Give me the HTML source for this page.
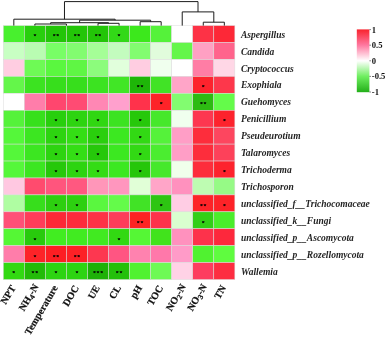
<!DOCTYPE html>
<html><head><meta charset="utf-8"><title>Heatmap</title>
<style>html,body{margin:0;padding:0;background:#fff}svg{display:block}</style></head>
<body>
<svg width="390" height="337" viewBox="0 0 390 337">
<rect width="390" height="337" fill="#fff"/>
<g stroke="#dcdcdc" stroke-width="0.5">
<rect x="3.30" y="25.60" width="21.05" height="16.93" fill="rgb(72,240,46)"/>
<rect x="24.35" y="25.60" width="21.05" height="16.93" fill="rgb(40,207,13)"/>
<rect x="45.40" y="25.60" width="21.05" height="16.93" fill="rgb(35,197,8)"/>
<rect x="66.45" y="25.60" width="21.05" height="16.93" fill="rgb(35,197,8)"/>
<rect x="87.50" y="25.60" width="21.05" height="16.93" fill="rgb(35,197,8)"/>
<rect x="108.55" y="25.60" width="21.05" height="16.93" fill="rgb(50,217,23)"/>
<rect x="129.60" y="25.60" width="21.05" height="16.93" fill="rgb(60,232,28)"/>
<rect x="150.65" y="25.60" width="21.05" height="16.93" fill="rgb(85,242,58)"/>
<rect x="171.70" y="25.60" width="21.05" height="16.93" fill="rgb(255,255,255)"/>
<rect x="192.75" y="25.60" width="21.05" height="16.93" fill="rgb(253,50,70)"/>
<rect x="213.80" y="25.60" width="21.05" height="16.93" fill="rgb(253,40,55)"/>
<rect x="3.30" y="42.53" width="21.05" height="16.93" fill="rgb(200,255,195)"/>
<rect x="24.35" y="42.53" width="21.05" height="16.93" fill="rgb(185,252,178)"/>
<rect x="45.40" y="42.53" width="21.05" height="16.93" fill="rgb(120,254,102)"/>
<rect x="66.45" y="42.53" width="21.05" height="16.93" fill="rgb(130,252,112)"/>
<rect x="87.50" y="42.53" width="21.05" height="16.93" fill="rgb(165,254,151)"/>
<rect x="108.55" y="42.53" width="21.05" height="16.93" fill="rgb(195,252,190)"/>
<rect x="129.60" y="42.53" width="21.05" height="16.93" fill="rgb(130,252,112)"/>
<rect x="150.65" y="42.53" width="21.05" height="16.93" fill="rgb(225,252,220)"/>
<rect x="171.70" y="42.53" width="21.05" height="16.93" fill="rgb(100,246,74)"/>
<rect x="192.75" y="42.53" width="21.05" height="16.93" fill="rgb(255,160,195)"/>
<rect x="213.80" y="42.53" width="21.05" height="16.93" fill="rgb(255,100,140)"/>
<rect x="3.30" y="59.46" width="21.05" height="16.93" fill="rgb(255,205,225)"/>
<rect x="24.35" y="59.46" width="21.05" height="16.93" fill="rgb(110,250,85)"/>
<rect x="45.40" y="59.46" width="21.05" height="16.93" fill="rgb(90,247,63)"/>
<rect x="66.45" y="59.46" width="21.05" height="16.93" fill="rgb(95,246,68)"/>
<rect x="87.50" y="59.46" width="21.05" height="16.93" fill="rgb(140,252,124)"/>
<rect x="108.55" y="59.46" width="21.05" height="16.93" fill="rgb(225,255,220)"/>
<rect x="129.60" y="59.46" width="21.05" height="16.93" fill="rgb(255,205,225)"/>
<rect x="150.65" y="59.46" width="21.05" height="16.93" fill="rgb(240,255,238)"/>
<rect x="171.70" y="59.46" width="21.05" height="16.93" fill="rgb(255,255,255)"/>
<rect x="192.75" y="59.46" width="21.05" height="16.93" fill="rgb(255,125,165)"/>
<rect x="213.80" y="59.46" width="21.05" height="16.93" fill="rgb(255,215,230)"/>
<rect x="3.30" y="76.39" width="21.05" height="16.93" fill="rgb(100,246,74)"/>
<rect x="24.35" y="76.39" width="21.05" height="16.93" fill="rgb(60,227,33)"/>
<rect x="45.40" y="76.39" width="21.05" height="16.93" fill="rgb(55,222,28)"/>
<rect x="66.45" y="76.39" width="21.05" height="16.93" fill="rgb(55,222,28)"/>
<rect x="87.50" y="76.39" width="21.05" height="16.93" fill="rgb(60,227,33)"/>
<rect x="108.55" y="76.39" width="21.05" height="16.93" fill="rgb(65,230,38)"/>
<rect x="129.60" y="76.39" width="21.05" height="16.93" fill="rgb(30,182,8)"/>
<rect x="150.65" y="76.39" width="21.05" height="16.93" fill="rgb(65,227,38)"/>
<rect x="171.70" y="76.39" width="21.05" height="16.93" fill="rgb(255,165,200)"/>
<rect x="192.75" y="76.39" width="21.05" height="16.93" fill="rgb(253,35,45)"/>
<rect x="213.80" y="76.39" width="21.05" height="16.93" fill="rgb(253,55,75)"/>
<rect x="3.30" y="93.32" width="21.05" height="16.93" fill="rgb(255,255,255)"/>
<rect x="24.35" y="93.32" width="21.05" height="16.93" fill="rgb(255,125,170)"/>
<rect x="45.40" y="93.32" width="21.05" height="16.93" fill="rgb(255,70,110)"/>
<rect x="66.45" y="93.32" width="21.05" height="16.93" fill="rgb(255,75,115)"/>
<rect x="87.50" y="93.32" width="21.05" height="16.93" fill="rgb(255,135,180)"/>
<rect x="108.55" y="93.32" width="21.05" height="16.93" fill="rgb(255,160,205)"/>
<rect x="129.60" y="93.32" width="21.05" height="16.93" fill="rgb(255,50,75)"/>
<rect x="150.65" y="93.32" width="21.05" height="16.93" fill="rgb(253,35,40)"/>
<rect x="171.70" y="93.32" width="21.05" height="16.93" fill="rgb(130,252,112)"/>
<rect x="192.75" y="93.32" width="21.05" height="16.93" fill="rgb(45,187,18)"/>
<rect x="213.80" y="93.32" width="21.05" height="16.93" fill="rgb(100,251,74)"/>
<rect x="3.30" y="110.25" width="21.05" height="16.93" fill="rgb(85,242,58)"/>
<rect x="24.35" y="110.25" width="21.05" height="16.93" fill="rgb(55,224,28)"/>
<rect x="45.40" y="110.25" width="21.05" height="16.93" fill="rgb(40,207,13)"/>
<rect x="66.45" y="110.25" width="21.05" height="16.93" fill="rgb(45,212,16)"/>
<rect x="87.50" y="110.25" width="21.05" height="16.93" fill="rgb(48,215,18)"/>
<rect x="108.55" y="110.25" width="21.05" height="16.93" fill="rgb(60,227,33)"/>
<rect x="129.60" y="110.25" width="21.05" height="16.93" fill="rgb(38,200,10)"/>
<rect x="150.65" y="110.25" width="21.05" height="16.93" fill="rgb(70,232,43)"/>
<rect x="171.70" y="110.25" width="21.05" height="16.93" fill="rgb(240,255,238)"/>
<rect x="192.75" y="110.25" width="21.05" height="16.93" fill="rgb(253,55,80)"/>
<rect x="213.80" y="110.25" width="21.05" height="16.93" fill="rgb(253,35,45)"/>
<rect x="3.30" y="127.18" width="21.05" height="16.93" fill="rgb(85,247,58)"/>
<rect x="24.35" y="127.18" width="21.05" height="16.93" fill="rgb(60,230,33)"/>
<rect x="45.40" y="127.18" width="21.05" height="16.93" fill="rgb(45,212,16)"/>
<rect x="66.45" y="127.18" width="21.05" height="16.93" fill="rgb(52,222,21)"/>
<rect x="87.50" y="127.18" width="21.05" height="16.93" fill="rgb(42,207,13)"/>
<rect x="108.55" y="127.18" width="21.05" height="16.93" fill="rgb(60,232,33)"/>
<rect x="129.60" y="127.18" width="21.05" height="16.93" fill="rgb(50,217,20)"/>
<rect x="150.65" y="127.18" width="21.05" height="16.93" fill="rgb(85,242,58)"/>
<rect x="171.70" y="127.18" width="21.05" height="16.93" fill="rgb(255,158,198)"/>
<rect x="192.75" y="127.18" width="21.05" height="16.93" fill="rgb(253,45,60)"/>
<rect x="213.80" y="127.18" width="21.05" height="16.93" fill="rgb(253,70,95)"/>
<rect x="3.30" y="144.11" width="21.05" height="16.93" fill="rgb(85,247,58)"/>
<rect x="24.35" y="144.11" width="21.05" height="16.93" fill="rgb(60,230,33)"/>
<rect x="45.40" y="144.11" width="21.05" height="16.93" fill="rgb(45,212,16)"/>
<rect x="66.45" y="144.11" width="21.05" height="16.93" fill="rgb(52,222,21)"/>
<rect x="87.50" y="144.11" width="21.05" height="16.93" fill="rgb(38,200,10)"/>
<rect x="108.55" y="144.11" width="21.05" height="16.93" fill="rgb(60,232,33)"/>
<rect x="129.60" y="144.11" width="21.05" height="16.93" fill="rgb(50,217,20)"/>
<rect x="150.65" y="144.11" width="21.05" height="16.93" fill="rgb(75,237,48)"/>
<rect x="171.70" y="144.11" width="21.05" height="16.93" fill="rgb(255,158,198)"/>
<rect x="192.75" y="144.11" width="21.05" height="16.93" fill="rgb(253,45,60)"/>
<rect x="213.80" y="144.11" width="21.05" height="16.93" fill="rgb(253,65,90)"/>
<rect x="3.30" y="161.04" width="21.05" height="16.93" fill="rgb(85,247,58)"/>
<rect x="24.35" y="161.04" width="21.05" height="16.93" fill="rgb(60,230,33)"/>
<rect x="45.40" y="161.04" width="21.05" height="16.93" fill="rgb(38,200,10)"/>
<rect x="66.45" y="161.04" width="21.05" height="16.93" fill="rgb(45,212,16)"/>
<rect x="87.50" y="161.04" width="21.05" height="16.93" fill="rgb(52,220,21)"/>
<rect x="108.55" y="161.04" width="21.05" height="16.93" fill="rgb(60,232,33)"/>
<rect x="129.60" y="161.04" width="21.05" height="16.93" fill="rgb(38,198,10)"/>
<rect x="150.65" y="161.04" width="21.05" height="16.93" fill="rgb(70,232,43)"/>
<rect x="171.70" y="161.04" width="21.05" height="16.93" fill="rgb(240,255,235)"/>
<rect x="192.75" y="161.04" width="21.05" height="16.93" fill="rgb(253,45,60)"/>
<rect x="213.80" y="161.04" width="21.05" height="16.93" fill="rgb(253,35,45)"/>
<rect x="3.30" y="177.97" width="21.05" height="16.93" fill="rgb(255,200,225)"/>
<rect x="24.35" y="177.97" width="21.05" height="16.93" fill="rgb(255,75,110)"/>
<rect x="45.40" y="177.97" width="21.05" height="16.93" fill="rgb(255,85,125)"/>
<rect x="66.45" y="177.97" width="21.05" height="16.93" fill="rgb(255,88,128)"/>
<rect x="87.50" y="177.97" width="21.05" height="16.93" fill="rgb(255,150,185)"/>
<rect x="108.55" y="177.97" width="21.05" height="16.93" fill="rgb(255,150,190)"/>
<rect x="129.60" y="177.97" width="21.05" height="16.93" fill="rgb(225,255,215)"/>
<rect x="150.65" y="177.97" width="21.05" height="16.93" fill="rgb(255,165,200)"/>
<rect x="171.70" y="177.97" width="21.05" height="16.93" fill="rgb(255,145,190)"/>
<rect x="192.75" y="177.97" width="21.05" height="16.93" fill="rgb(190,252,178)"/>
<rect x="213.80" y="177.97" width="21.05" height="16.93" fill="rgb(150,250,134)"/>
<rect x="3.30" y="194.90" width="21.05" height="16.93" fill="rgb(175,253,162)"/>
<rect x="24.35" y="194.90" width="21.05" height="16.93" fill="rgb(55,222,28)"/>
<rect x="45.40" y="194.90" width="21.05" height="16.93" fill="rgb(45,207,16)"/>
<rect x="66.45" y="194.90" width="21.05" height="16.93" fill="rgb(45,208,16)"/>
<rect x="87.50" y="194.90" width="21.05" height="16.93" fill="rgb(90,247,63)"/>
<rect x="108.55" y="194.90" width="21.05" height="16.93" fill="rgb(100,251,74)"/>
<rect x="129.60" y="194.90" width="21.05" height="16.93" fill="rgb(65,227,38)"/>
<rect x="150.65" y="194.90" width="21.05" height="16.93" fill="rgb(45,197,18)"/>
<rect x="171.70" y="194.90" width="21.05" height="16.93" fill="rgb(255,205,228)"/>
<rect x="192.75" y="194.90" width="21.05" height="16.93" fill="rgb(253,35,40)"/>
<rect x="213.80" y="194.90" width="21.05" height="16.93" fill="rgb(253,35,40)"/>
<rect x="3.30" y="211.83" width="21.05" height="16.93" fill="rgb(255,80,120)"/>
<rect x="24.35" y="211.83" width="21.05" height="16.93" fill="rgb(255,60,90)"/>
<rect x="45.40" y="211.83" width="21.05" height="16.93" fill="rgb(253,40,55)"/>
<rect x="66.45" y="211.83" width="21.05" height="16.93" fill="rgb(253,43,60)"/>
<rect x="87.50" y="211.83" width="21.05" height="16.93" fill="rgb(253,50,70)"/>
<rect x="108.55" y="211.83" width="21.05" height="16.93" fill="rgb(253,60,90)"/>
<rect x="129.60" y="211.83" width="21.05" height="16.93" fill="rgb(253,35,35)"/>
<rect x="150.65" y="211.83" width="21.05" height="16.93" fill="rgb(253,50,75)"/>
<rect x="171.70" y="211.83" width="21.05" height="16.93" fill="rgb(217,255,207)"/>
<rect x="192.75" y="211.83" width="21.05" height="16.93" fill="rgb(50,207,23)"/>
<rect x="213.80" y="211.83" width="21.05" height="16.93" fill="rgb(75,237,43)"/>
<rect x="3.30" y="228.76" width="21.05" height="16.93" fill="rgb(85,247,53)"/>
<rect x="24.35" y="228.76" width="21.05" height="16.93" fill="rgb(40,202,13)"/>
<rect x="45.40" y="228.76" width="21.05" height="16.93" fill="rgb(65,237,33)"/>
<rect x="66.45" y="228.76" width="21.05" height="16.93" fill="rgb(65,235,33)"/>
<rect x="87.50" y="228.76" width="21.05" height="16.93" fill="rgb(65,234,33)"/>
<rect x="108.55" y="228.76" width="21.05" height="16.93" fill="rgb(50,217,18)"/>
<rect x="129.60" y="228.76" width="21.05" height="16.93" fill="rgb(85,247,53)"/>
<rect x="150.65" y="228.76" width="21.05" height="16.93" fill="rgb(65,227,28)"/>
<rect x="171.70" y="228.76" width="21.05" height="16.93" fill="rgb(255,145,190)"/>
<rect x="192.75" y="228.76" width="21.05" height="16.93" fill="rgb(253,50,75)"/>
<rect x="213.80" y="228.76" width="21.05" height="16.93" fill="rgb(253,40,60)"/>
<rect x="3.30" y="245.69" width="21.05" height="16.93" fill="rgb(255,125,170)"/>
<rect x="24.35" y="245.69" width="21.05" height="16.93" fill="rgb(253,35,40)"/>
<rect x="45.40" y="245.69" width="21.05" height="16.93" fill="rgb(253,30,35)"/>
<rect x="66.45" y="245.69" width="21.05" height="16.93" fill="rgb(253,33,38)"/>
<rect x="87.50" y="245.69" width="21.05" height="16.93" fill="rgb(253,55,80)"/>
<rect x="108.55" y="245.69" width="21.05" height="16.93" fill="rgb(255,85,130)"/>
<rect x="129.60" y="245.69" width="21.05" height="16.93" fill="rgb(255,130,175)"/>
<rect x="150.65" y="245.69" width="21.05" height="16.93" fill="rgb(255,120,170)"/>
<rect x="171.70" y="245.69" width="21.05" height="16.93" fill="rgb(255,155,200)"/>
<rect x="192.75" y="245.69" width="21.05" height="16.93" fill="rgb(80,242,48)"/>
<rect x="213.80" y="245.69" width="21.05" height="16.93" fill="rgb(95,252,63)"/>
<rect x="3.30" y="262.62" width="21.05" height="16.93" fill="rgb(50,217,18)"/>
<rect x="24.35" y="262.62" width="21.05" height="16.93" fill="rgb(35,187,8)"/>
<rect x="45.40" y="262.62" width="21.05" height="16.93" fill="rgb(45,212,18)"/>
<rect x="66.45" y="262.62" width="21.05" height="16.93" fill="rgb(45,212,18)"/>
<rect x="87.50" y="262.62" width="21.05" height="16.93" fill="rgb(30,177,8)"/>
<rect x="108.55" y="262.62" width="21.05" height="16.93" fill="rgb(35,192,10)"/>
<rect x="129.60" y="262.62" width="21.05" height="16.93" fill="rgb(80,242,48)"/>
<rect x="150.65" y="262.62" width="21.05" height="16.93" fill="rgb(110,250,85)"/>
<rect x="171.70" y="262.62" width="21.05" height="16.93" fill="rgb(255,210,230)"/>
<rect x="192.75" y="262.62" width="21.05" height="16.93" fill="rgb(253,60,95)"/>
<rect x="213.80" y="262.62" width="21.05" height="16.93" fill="rgb(253,45,65)"/>
</g>
<g font-family="'Liberation Sans',sans-serif" font-size="6.2" font-weight="bold" text-anchor="middle" letter-spacing="1.2" fill="#000" stroke="#000" stroke-width="0.2">
<text x="35.48" y="38.46">*</text>
<text x="56.52" y="38.46">**</text>
<text x="77.57" y="38.46">**</text>
<text x="98.62" y="38.46">**</text>
<text x="119.67" y="38.46">*</text>
<text x="140.73" y="89.25">**</text>
<text x="203.88" y="89.25">*</text>
<text x="161.78" y="106.19">*</text>
<text x="203.88" y="106.19">**</text>
<text x="56.52" y="123.12">*</text>
<text x="77.57" y="123.12">*</text>
<text x="98.62" y="123.12">*</text>
<text x="140.73" y="123.12">*</text>
<text x="224.93" y="123.12">*</text>
<text x="56.52" y="140.05">*</text>
<text x="77.57" y="140.05">*</text>
<text x="98.62" y="140.05">*</text>
<text x="140.73" y="140.05">*</text>
<text x="56.52" y="156.97">*</text>
<text x="77.57" y="156.97">*</text>
<text x="98.62" y="156.97">*</text>
<text x="140.73" y="156.97">*</text>
<text x="56.52" y="173.91">*</text>
<text x="77.57" y="173.91">*</text>
<text x="98.62" y="173.91">*</text>
<text x="140.73" y="173.91">*</text>
<text x="224.93" y="173.91">*</text>
<text x="56.52" y="207.76">*</text>
<text x="77.57" y="207.76">*</text>
<text x="161.78" y="207.76">*</text>
<text x="203.88" y="207.76">**</text>
<text x="224.93" y="207.76">*</text>
<text x="140.73" y="224.69">**</text>
<text x="203.88" y="224.69">*</text>
<text x="35.48" y="241.62">*</text>
<text x="119.67" y="241.62">*</text>
<text x="35.48" y="258.56">*</text>
<text x="56.52" y="258.56">**</text>
<text x="77.57" y="258.56">**</text>
<text x="14.42" y="275.48">*</text>
<text x="35.48" y="275.48">**</text>
<text x="56.52" y="275.48">*</text>
<text x="77.57" y="275.48">*</text>
<text x="98.62" y="275.48">***</text>
<text x="119.67" y="275.48">**</text>
</g>
<path d="M34.88 25.6V24.0H66.45V25.6M98.03 25.6V23.3H119.08V25.6M50.66 24.0V22.7H108.55V23.3M140.13 25.6V21.7H161.18V25.6M79.61 22.7V20.2H150.65V21.7M13.82 25.6V19.2H115.13V20.2M203.28 25.6V22.2H224.33V25.6M182.23 25.6V11.9H213.80V22.2M64.48 19.2V1.6H198.01V11.9" fill="none" stroke="#1c1c1c" stroke-width="1"/>
<g font-family="'Liberation Serif',serif" font-size="9.5" font-weight="bold" font-style="italic" fill="#242424">
<text x="240.9" y="37.66">Aspergillus</text>
<text x="240.9" y="54.59">Candida</text>
<text x="240.9" y="71.53">Cryptococcus</text>
<text x="240.9" y="88.45">Exophiala</text>
<text x="240.9" y="105.38">Guehomyces</text>
<text x="240.9" y="122.31">Penicillium</text>
<text x="240.9" y="139.25">Pseudeurotium</text>
<text x="240.9" y="156.18">Talaromyces</text>
<text x="240.9" y="173.11">Trichoderma</text>
<text x="240.9" y="190.04">Trichosporon</text>
<text x="240.9" y="206.97">unclassified_f__Trichocomaceae</text>
<text x="240.9" y="223.90">unclassified_k__Fungi</text>
<text x="240.9" y="240.83">unclassified_p__Ascomycota</text>
<text x="240.9" y="257.75">unclassified_p__Rozellomycota</text>
<text x="240.9" y="274.69">Wallemia</text>
</g>
<g font-family="'Liberation Serif',serif" font-size="10" font-weight="bold" text-anchor="end" fill="#111" stroke="#111" stroke-width="0.2">
<text transform="translate(16.02 287.80) rotate(-59.5)">NPT</text>
<text transform="translate(38.88 286.40) rotate(-59.5)">NH<tspan font-size="7.5" dy="2">4</tspan><tspan dy="-2">-N</tspan></text>
<text transform="translate(58.12 287.80) rotate(-59.5)">Temperature</text>
<text transform="translate(79.17 287.80) rotate(-59.5)">DOC</text>
<text transform="translate(100.23 287.80) rotate(-59.5)">UE</text>
<text transform="translate(121.28 287.80) rotate(-59.5)">CL</text>
<text transform="translate(142.33 287.80) rotate(-59.5)">pH</text>
<text transform="translate(163.38 287.80) rotate(-59.5)">TOC</text>
<text transform="translate(186.23 286.40) rotate(-59.5)">NO<tspan font-size="7.5" dy="2">2</tspan><tspan dy="-2">-N</tspan></text>
<text transform="translate(207.28 286.40) rotate(-59.5)">NO<tspan font-size="7.5" dy="2">3</tspan><tspan dy="-2">-N</tspan></text>
<text transform="translate(226.53 287.80) rotate(-59.5)">TN</text>
</g>
<defs><linearGradient id="cb" x1="0" y1="0" x2="0" y2="1"><stop offset="0" stop-color="rgb(248,35,45)"/><stop offset="0.25" stop-color="rgb(255,120,160)"/><stop offset="0.5" stop-color="#fff"/><stop offset="0.75" stop-color="rgb(110,238,95)"/><stop offset="1" stop-color="rgb(35,175,25)"/></linearGradient></defs>
<rect x="356.8" y="29.4" width="12.6" height="62.8" fill="url(#cb)"/>
<g font-family="'Liberation Serif',serif" font-size="8.6" font-weight="bold" fill="#111">
<path d="M369.4 29.60h1.6" stroke="#333" stroke-width="0.6"/>
<text x="371.8" y="32.60">1</text>
<path d="M369.4 45.20h1.6" stroke="#333" stroke-width="0.6"/>
<text x="371.8" y="48.20">0.5</text>
<path d="M369.4 60.80h1.6" stroke="#333" stroke-width="0.6"/>
<text x="371.8" y="63.80">0</text>
<path d="M369.4 76.40h1.6" stroke="#333" stroke-width="0.6"/>
<text x="371.8" y="79.40">-0.5</text>
<path d="M369.4 92.00h1.6" stroke="#333" stroke-width="0.6"/>
<text x="371.8" y="95.00">-1</text>
</g>
</svg>
</body></html>
